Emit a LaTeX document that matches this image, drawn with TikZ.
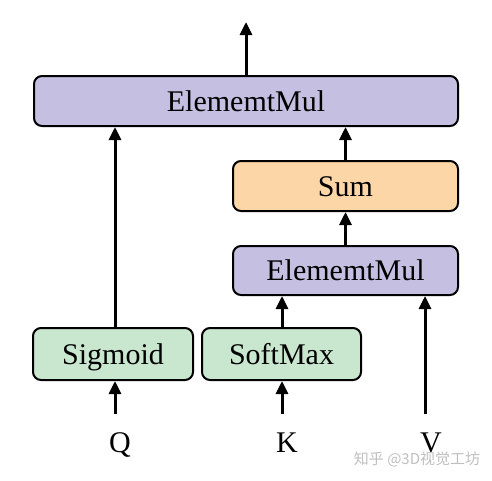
\documentclass[tikz,border=0pt]{standalone}
\usepackage{fontspec}
\setmainfont{Liberation Serif}
\newfontfamily\cjk{Noto Sans CJK SC}
\usetikzlibrary{arrows.meta}
\definecolor{cpurple}{RGB}{197,191,225}
\definecolor{corange}{RGB}{253,214,168}
\definecolor{cgreen}{RGB}{201,231,206}
\tikzset{
  box/.style={draw=black, line width=2pt, rounded corners=8pt, inner sep=0pt, font=\fontsize{30}{33}\selectfont, text height=20pt, text depth=0pt},
  conn/.style={line width=3pt, -{Triangle[width=12pt,length=13pt]}},
  lab/.style={font=\fontsize{30}{33}\selectfont, text height=20pt, text depth=0pt, inner sep=0pt},
}
\begin{document}
\begin{tikzpicture}[x=1pt,y=-1pt]
\useasboundingbox (0,0) rectangle (492,480);
\node[box, fill=cpurple, minimum width=424pt, minimum height=50pt] (top) at (246,101) {ElememtMul};
\node[box, fill=corange, minimum width=225pt, minimum height=50pt] (sum) at (345.5,186) {Sum};
\node[box, fill=cpurple, minimum width=225pt, minimum height=49pt] (em) at (345.5,270.5) {ElememtMul};
\node[box, fill=cgreen, minimum width=160pt, minimum height=52pt] (sig) at (113,354) {Sigmoid};
\node[box, fill=cgreen, minimum width=159pt, minimum height=52pt] (sm) at (281.5,354) {SoftMax};
\node[lab] (q) at (120,442) {Q};
\node[lab] (k) at (287,442) {K};
\node[lab] (v) at (431,442) {V};
\coordinate (qin) at (115,414);
\coordinate (kin) at (282,414);
\coordinate (vin) at (425,414);
\coordinate (out) at (246,22);
\node[font=\cjk\fontsize{15}{17}\selectfont, text=black!25] (wm) at (417,459) {知乎 @3D视觉工坊};
\draw[conn] (top.north) -- (out);
\draw[conn] (sig.north -| qin) -- (qin |- top.south);
\draw[conn] (sum.north) -- (sum.north |- top.south);
\draw[conn] (em.north) -- (sum.south);
\draw[conn] (sm.north -| kin) -- (kin |- em.south);
\draw[conn] (vin) -- (vin |- em.south);
\draw[conn] (qin) -- (qin |- sig.south);
\draw[conn] (kin) -- (kin |- sm.south);
\end{tikzpicture}
\end{document}
